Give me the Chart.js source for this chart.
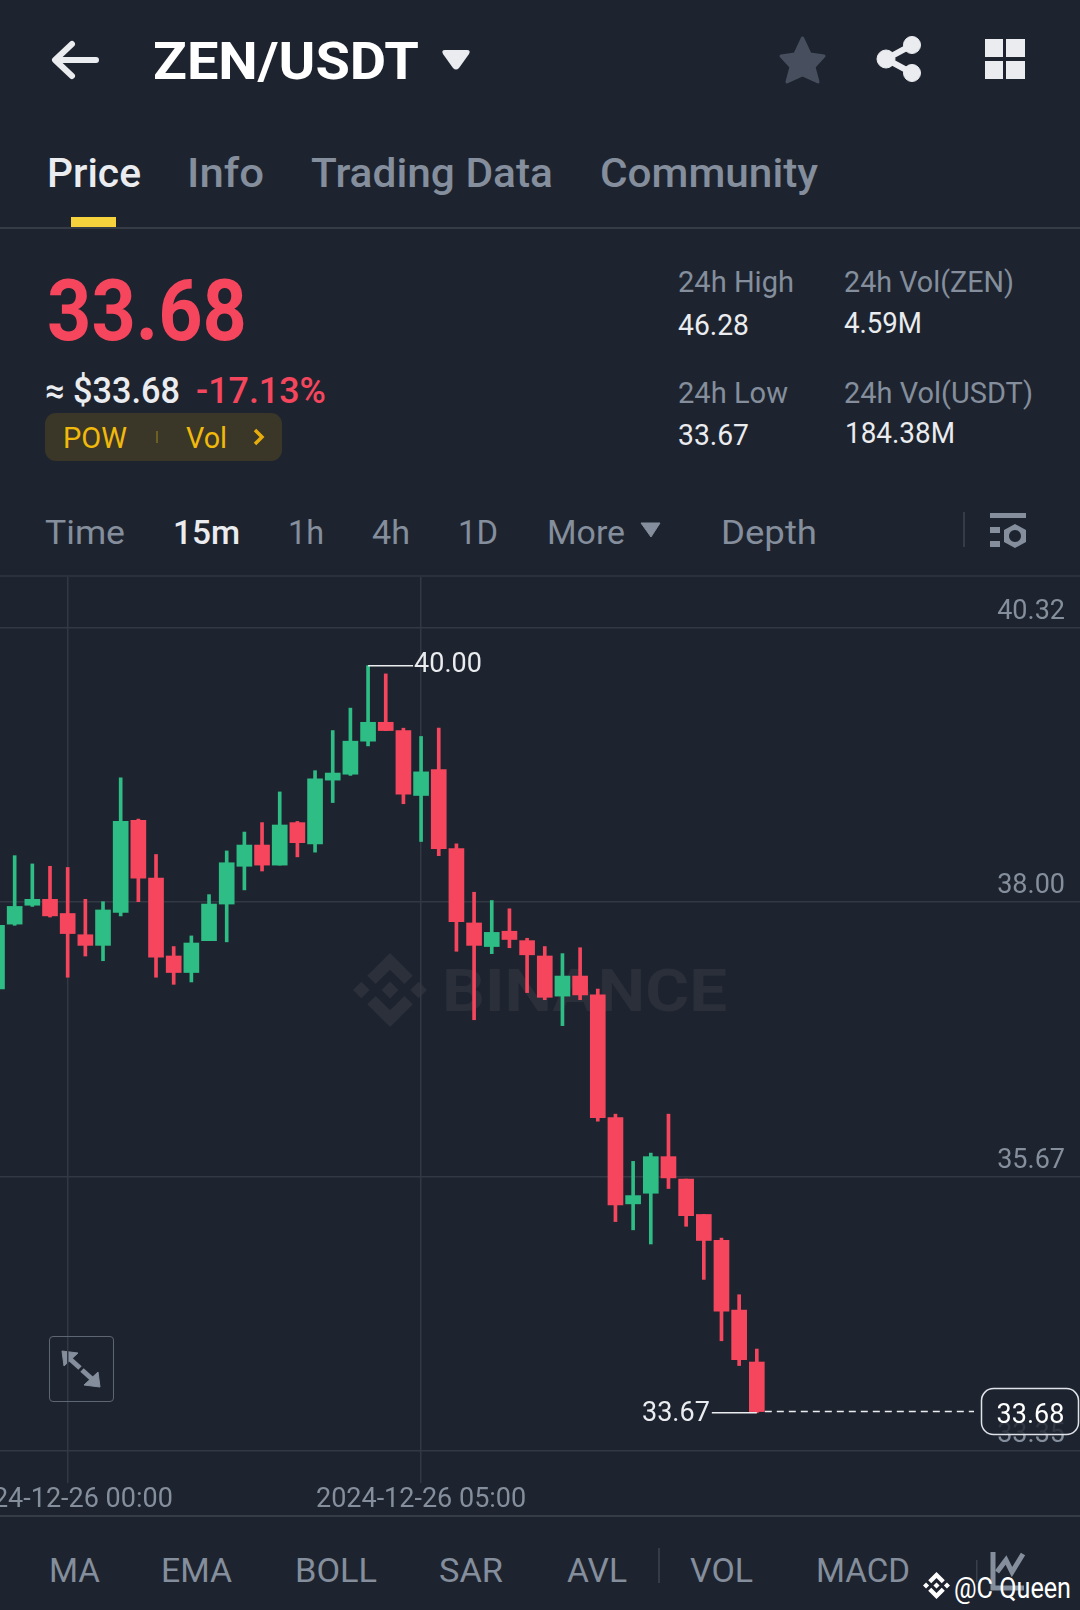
<!DOCTYPE html>
<html><head><meta charset="utf-8">
<script src="https://cdn.jsdelivr.net/npm/chart.js@4/dist/chart.umd.min.js"></script>
<style>
html,body{margin:0;padding:0;width:1080px;height:1610px;overflow:hidden;background:#1e242f;font-family:Roboto,sans-serif}
#page{position:relative;width:1080px;height:1610px;overflow:hidden}
.t{position:absolute;white-space:pre;line-height:1;transform-origin:0 0}
.b{position:absolute}
svg{position:absolute;overflow:visible}
canvas{position:absolute;left:0;top:577px;z-index:2}
</style></head><body><div id="page">
<div class="b" style="left:71px;top:217px;width:45px;height:10px;background:#f6d33c"></div>
<div class="b" style="left:0;top:227px;width:1080px;height:2px;background:#363c46"></div>
<div class="b" style="left:45px;top:413px;width:237px;height:48px;background:#3a3729;border-radius:11px"></div>
<div class="b" style="left:156px;top:431px;width:2px;height:12px;background:#6b5f26"></div>
<div class="b" style="left:963px;top:512px;width:2px;height:35px;background:#363c46"></div>
<div class="b" style="left:0;top:575px;width:1080px;height:2px;background:#2b313b"></div>
<div class="b" style="left:0;top:1515px;width:1080px;height:2px;background:#363c46"></div>
<div class="b" style="left:658px;top:1548px;width:2px;height:35px;background:#363c46"></div>
<div class="b" style="left:49px;top:1336px;width:63px;height:64px;border:1.5px solid #5e6673;border-radius:4px;z-index:3"></div>

<svg style="left:0;top:0" width="1080" height="1610">
 <path d="M96 60H57M72 44L55 60L72 76" fill="none" stroke="#eaecef" stroke-width="6" stroke-linejoin="round" stroke-linecap="round"/>
 <path d="M445 50H467Q471 50 469 54L459 68Q456 71 453 68L443 54Q441 50 445 50Z" fill="#eaecef"/>
 <path d="M802.5 38L810 54L824 56L814 67L818 82L802.5 75L787 82L791 67L781 56L795 54Z" fill="#474f5e" stroke="#474f5e" stroke-width="3" stroke-linejoin="round"/>
 <g fill="#eaecef" stroke="#eaecef"><path d="M912 45L886 59L912 73" fill="none" stroke-width="6"/><circle cx="912" cy="45" r="8.5"/><circle cx="886" cy="59" r="9"/><circle cx="912" cy="73" r="8.5"/></g>
 <g fill="#eaecef"><rect x="985" y="39" width="18" height="18"/><rect x="1006" y="39" width="19" height="18"/><rect x="985" y="61" width="18" height="18"/><rect x="1006" y="61" width="19" height="18"/></g>
 <path d="M255 430L262 437L255 444" fill="none" stroke="#e6ad0c" stroke-width="3.5"/>
 <path d="M641 523H660L651 537Z" fill="#848e9c" stroke="#848e9c" stroke-width="1" stroke-linejoin="round"/>
 <g fill="#848e9c"><rect x="990" y="513" width="36" height="5"/><rect x="990" y="527" width="10" height="6"/><rect x="990" y="541" width="10" height="6"/>
 <path fill-rule="evenodd" d="M1015 524L1026 530V542L1015 548L1004 542V530ZM1015 530a6 6 0 1 0 .01 0Z"/></g>
 <g fill="#848e9c" stroke="#848e9c"><path d="M62 1351L78 1353L64 1366Z"/><path d="M70 1359L80 1368" stroke-width="5"/><path d="M100 1387L84 1385L98 1372Z"/><path d="M92 1379L82 1370" stroke-width="5"/></g>
 <g fill="none" stroke="#848e9c" stroke-width="5"><path d="M993 1552V1588H1024"/><path d="M997 1572L1006 1560L1012 1572L1023 1554"/></g>
 <rect x="976" y="1560" width="1.5" height="22" fill="#3a404a"/>
 <svg x="353" y="953" width="74" height="74" viewBox="0 0 126.61 126.61"><path fill="#2b303b" d="M38.73 53.2l24.59-24.58 24.6 24.6 14.3-14.31L63.32 0 24.42 38.9l14.31 14.3zM0 63.31l14.3-14.31 14.31 14.31-14.31 14.3zM38.73 73.41l24.59 24.59 24.6-24.6 14.31 14.29-38.9 38.91-38.91-38.88-.02-.02zM98 63.31l14.3-14.31 14.31 14.3-14.31 14.32zM77.83 63.3L63.32 48.78 52.59 59.51l-1.24 1.23-2.54 2.54 14.51 14.5 14.51-14.47z"/></svg>
 <svg x="923" y="1572" width="27" height="27" viewBox="0 0 126.61 126.61"><path fill="#ffffff" d="M38.73 53.2l24.59-24.58 24.6 24.6 14.3-14.31L63.32 0 24.42 38.9l14.31 14.3zM0 63.31l14.3-14.31 14.31 14.31-14.31 14.3zM38.73 73.41l24.59 24.59 24.6-24.6 14.31 14.29-38.9 38.91-38.91-38.88-.02-.02zM98 63.31l14.3-14.31 14.31 14.3-14.31 14.32zM77.83 63.3L63.32 48.78 52.59 59.51l-1.24 1.23-2.54 2.54 14.51 14.5 14.51-14.47z"/></svg>
</svg>
<canvas id="c" width="1080" height="939" style="width:1080px;height:939px"></canvas>
</div>
<script>
// ---- chart data (15m candles) ----
const times = ["2024-12-25 23:00","2024-12-25 23:15","2024-12-25 23:30","2024-12-25 23:45","2024-12-26 00:00","2024-12-26 00:15","2024-12-26 00:30","2024-12-26 00:45","2024-12-26 01:00","2024-12-26 01:15","2024-12-26 01:30","2024-12-26 01:45","2024-12-26 02:00","2024-12-26 02:15","2024-12-26 02:30","2024-12-26 02:45","2024-12-26 03:00","2024-12-26 03:15","2024-12-26 03:30","2024-12-26 03:45","2024-12-26 04:00","2024-12-26 04:15","2024-12-26 04:30","2024-12-26 04:45","2024-12-26 05:00","2024-12-26 05:15","2024-12-26 05:30","2024-12-26 05:45","2024-12-26 06:00","2024-12-26 06:15","2024-12-26 06:30","2024-12-26 06:45","2024-12-26 07:00","2024-12-26 07:15","2024-12-26 07:30","2024-12-26 07:45","2024-12-26 08:00","2024-12-26 08:15","2024-12-26 08:30","2024-12-26 08:45","2024-12-26 09:00","2024-12-26 09:15","2024-12-26 09:30","2024-12-26 09:45"];
const opens  = [37.26,37.81,37.97,38.02,37.90,37.72,37.63,37.91,38.69,38.20,37.54,37.40,37.67,37.98,38.30,38.48,38.31,38.67,38.49,39.03,39.08,39.36,39.52,39.45,38.90,39.12,38.45,37.82,37.62,37.75,37.67,37.54,37.20,37.37,37.21,36.17,35.44,35.53,35.84,35.65,35.35,35.13,34.54,34.10];
const highs  = [37.82,38.39,38.32,38.30,38.29,38.02,38.00,39.05,38.70,38.40,37.62,37.71,38.06,38.43,38.59,38.67,38.93,38.68,39.11,39.45,39.64,40.00,39.93,39.47,39.40,39.47,38.49,38.08,38.01,37.94,37.69,37.62,37.56,37.61,37.26,36.20,35.80,35.87,36.20,35.65,35.35,35.15,34.67,34.21];
const lows   = [37.25,37.80,37.96,37.87,37.36,37.54,37.50,37.88,38.00,37.36,37.30,37.32,37.67,37.66,38.10,38.26,38.31,38.38,38.42,38.84,39.07,39.32,39.45,38.83,38.51,38.39,37.58,37.00,37.56,37.61,37.23,37.17,36.95,37.17,36.14,35.29,35.22,35.10,35.57,35.25,34.80,34.28,34.07,33.67];
const closes = [37.80,37.96,38.02,37.88,37.73,37.63,37.93,38.68,38.20,37.53,37.40,37.65,37.98,38.33,38.48,38.31,38.65,38.50,39.04,39.09,39.36,39.52,39.45,38.91,39.10,38.45,37.83,37.63,37.74,37.68,37.55,37.19,37.37,37.21,36.17,35.43,35.51,35.84,35.66,35.34,35.13,34.53,34.12,33.68];
const priceTicks = [40.32,38.00,35.67,33.35];
const timeTicks = ["2024-12-26 00:00","2024-12-26 05:00"];
const lastPrice = 33.68;

const UP='#2ebd85', DOWN='#f6465d', GREY='#848e9c';
const colors = closes.map((c,i)=> c>=opens[i] ? UP : DOWN);

// ---- page text ----
const page=document.getElementById('page');
function T(text,x,base,size,color,weight,width,z){
  const s=document.createElement('span');s.className='t';s.textContent=text;
  s.style.cssText=`left:${x}px;top:${base-0.841*size}px;font-size:${size}px;color:${color};font-weight:${weight||400};z-index:${z||1}`;
  page.insertBefore(s,page.querySelector('canvas'));
  if(width){const w=s.getBoundingClientRect().width;s.style.transform=`scaleX(${width/w})`;}
  return s;
}
T('ZEN/USDT',153,80,52,'#ffffff',700,266);
T('Price',47,188,40,'#eaecef',500,94);
T('Info',187,188,40,GREY,500,77);
T('Trading Data',311,188,40,GREY,500,242);
T('Community',600,188,40,GREY,500,218);
T('33.68',47,340,85,DOWN,700,200);
T('≈ $33.68',45,403,36,'#eaecef',500,135);
T('-17.13%',196,403,36,DOWN,500,130);
T('POW',63,448,30,'#f0b90b',400,64);
T('Vol',186,448,30,'#f0b90b',400,41);
T('24h High',678,292,29,GREY,400,116);
T('46.28',678,335,29,'#eaecef',400,71);
T('24h Vol(ZEN)',844,292,29,GREY,400,170);
T('4.59M',844,333,29,'#eaecef',400,78);
T('24h Low',678,403,29,GREY,400,110);
T('33.67',678,445,29,'#eaecef',400,71);
T('24h Vol(USDT)',844,403,29,GREY,400,189);
T('184.38M',845,443,29,'#eaecef',400,110);
T('Time',45,544,34,GREY,400,80);
T('15m',173,544,34,'#eaecef',500,67);
T('1h',288,544,34,GREY,400,36);
T('4h',372,544,34,GREY,400,38);
T('1D',458,544,34,GREY,400,40);
T('More',547,544,34,GREY,400,78);
T('Depth',721,544,34,GREY,400,96);
T('BINANCE',442,1011,60,'#2a2f3a',700,285);
T('MA',49,1582,34,GREY,400,51);
T('EMA',161,1582,34,GREY,400,71);
T('BOLL',295,1582,34,GREY,400,82);
T('SAR',439,1582,34,GREY,400,64);
T('AVL',567,1582,34,GREY,400,60);
T('VOL',690,1582,34,GREY,400,63);
T('MACD',816,1582,34,GREY,400,94);
T('@C Queen',954,1598,29,'#ffffff',400,117,6);

// ---- annotations drawn from the scales ----
const annot={id:'annot',afterDatasetsDraw(ch){
  const {ctx,scales:{x,y}}=ch;
  const hi=Math.max(...highs), lo=Math.min(...lows);
  const hx=x.getPixelForValue(highs.indexOf(hi)), hy=y.getPixelForValue(hi);
  const lx=x.getPixelForValue(lows.indexOf(lo)), ly=y.getPixelForValue(lo);
  const py=y.getPixelForValue(lastPrice);
  ctx.save();
  ctx.strokeStyle='#eaecef';ctx.lineWidth=1.5;
  ctx.beginPath();ctx.moveTo(hx,hy);ctx.lineTo(hx+45,hy);ctx.moveTo(lx,ly);ctx.lineTo(lx-45,ly);ctx.stroke();
  ctx.setLineDash([7,5]);ctx.beginPath();ctx.moveTo(lx+8,py);ctx.lineTo(974,py);ctx.stroke();ctx.setLineDash([]);
  ctx.fillStyle='#eaecef';ctx.font='27px Roboto';ctx.textBaseline='middle';
  ctx.textAlign='left';ctx.fillText(hi.toFixed(2),hx+46,hy);
  ctx.textAlign='right';ctx.fillText(lo.toFixed(2),lx-47,ly+1);
  ctx.fillStyle='rgba(30,36,47,0.82)';ctx.strokeStyle='#dfe3e8';
  ctx.beginPath();ctx.roundRect(981.5,py-23,97,46,12);ctx.fill();ctx.stroke();
  ctx.fillStyle='#ffffff';ctx.textAlign='center';ctx.fillText(lastPrice.toFixed(2),1030.5,py+5);
  ctx.restore();
}};

new Chart(document.getElementById('c'),{
  type:'bar',
  plugins:[annot],
  data:{datasets:[
    {label:'Wick',data:times.map((t,i)=>({x:i,y:[lows[i],highs[i]]})),backgroundColor:colors,barThickness:3,borderSkipped:false,order:2},
    {label:'Body',data:times.map((t,i)=>({x:i,y:[opens[i],closes[i]]})),backgroundColor:colors,barThickness:15,borderSkipped:false,order:1}
  ]},
  options:{
    responsive:false,animation:false,devicePixelRatio:1,
    layout:{padding:0},
    plugins:{legend:{display:false},tooltip:{enabled:false},title:{display:false}},
    scales:{
      x:{type:'linear',stacked:true,offset:false,min:0.17,max:61.29,position:'bottom',
        border:{display:false},
        grid:{color:'#333944',lineWidth:1.5,drawTicks:false,offset:false},
        afterBuildTicks:s=>{s.ticks=timeTicks.map(l=>({value:times.indexOf(l)}));},
        afterFit:s=>{s.height=33;s.paddingLeft=0;s.paddingRight=0;},
        ticks:{autoSkip:false,maxRotation:0,minRotation:0,padding:1,color:GREY,font:{family:'Roboto',size:27},
          callback:v=>times[v]||''}
      },
      y:{position:'right',stacked:false,min:33.075,max:40.751,
        border:{display:false},
        grid:{color:'#333944',lineWidth:1.5,drawTicks:false},
        afterBuildTicks:s=>{s.ticks=priceTicks.map(v=>({value:v}));},
        afterFit:s=>{s.width=0;s.paddingTop=0;s.paddingBottom=0;},
        ticks:{mirror:true,align:'end',padding:-15,labelOffset:-2,color:GREY,font:{family:'Roboto',size:27},
          callback:v=>Number(v).toFixed(2)}
      }
    }
  }
});
</script></body></html>
